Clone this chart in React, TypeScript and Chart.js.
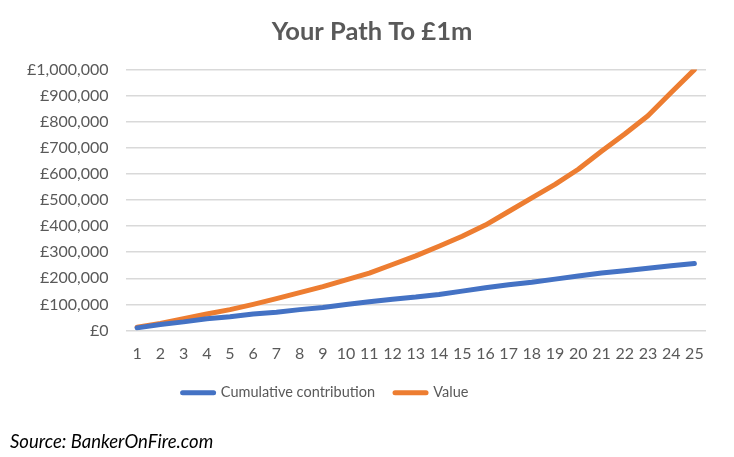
import React, { useEffect, useRef } from "react";
import { Chart, registerables } from "chart.js";

Chart.register(...registerables);

const years: string[] = ["1","2","3","4","5","6","7","8","9","10","11","12","13","14","15","16","17","18","19","20","21","22","23","24","25"];
const cumulativeContribution: number[] = [10000,23000,33000,45000,53000,63000,70000,80000,88000,100000,110000,120000,128000,138000,151000,164000,175000,185000,197000,209000,220000,229000,239000,248000,257000];
const portfolioValue: number[] = [13000,27000,45000,63000,80000,100000,122000,145000,168000,194000,220000,253000,286000,323000,361000,404000,456000,508000,560000,618000,687000,753000,823000,912000,1000000];

const TEXT = "#595959";
const FONT = "Lato, 'Open Sans', sans-serif";

// Shift title / legend horizontally to match the reference placement
const boxShift = {
  id: "boxShift",
  afterLayout(chart: any) {
    const t = chart.titleBlock;
    if (t) {
      t.left = 38;
      t.right = 706;
    }
    const l = chart.legend;
    if (l) {
      l.left = 10;
      l.right = 641;
    }
  },
};

export default function App() {
  const ref = useRef<HTMLCanvasElement | null>(null);
  useEffect(() => {
    document.body.style.margin = "0";
    if (!ref.current) return;
    const chart = new Chart(ref.current, {
      type: "line",
      data: {
        labels: years,
        datasets: [
          {
            label: "Cumulative contribution",
            data: cumulativeContribution,
            borderColor: "#4472C4",
            backgroundColor: "#4472C4",
            borderWidth: 5,
            pointRadius: 0,
            tension: 0,
            borderCapStyle: "round",
            borderJoinStyle: "round",
          },
          {
            label: "Value",
            data: portfolioValue,
            borderColor: "#ED7D31",
            backgroundColor: "#ED7D31",
            borderWidth: 5,
            pointRadius: 0,
            tension: 0,
            borderCapStyle: "round",
            borderJoinStyle: "round",
          },
        ],
      },
      plugins: [boxShift],
      options: {
        responsive: false,
        animation: false,
        layout: { padding: { left: 10, right: 28, top: 0, bottom: 47 } },
        plugins: {
          title: {
            display: true,
            text: "Your Path To £1m",
            color: TEXT,
            font: { family: FONT, size: 25.5, weight: "bold" },
            padding: { top: 16, bottom: 23 },
          },
          legend: {
            position: "bottom",
            labels: {
              color: TEXT,
              font: { family: FONT, size: 14.5 },
              boxWidth: 31,
              boxHeight: 0.1,
              padding: 20,
            },
          },
          tooltip: { enabled: false },
        },
        scales: {
          x: {
            offset: true,
            grid: { display: false },
            border: { display: false },
            ticks: { color: TEXT, font: { family: FONT, size: 16 }, padding: 6, maxRotation: 0, autoSkip: false },
            afterFit: (scale: any) => {
              scale.height = 35;
            },
          },
          y: {
            min: 0,
            max: 1000000,
            border: { display: false },
            grid: { color: "#d9d9d9", lineWidth: 1.5, drawTicks: false },
            ticks: {
              stepSize: 100000,
              color: TEXT,
              font: { family: FONT, size: 16 },
              padding: 17,
              callback: (v: any) => "£" + Number(v).toLocaleString("en-GB"),
            },
          },
        },
      },
    });
    return () => chart.destroy();
  }, []);
  return (
    <div style={{ position: "relative", width: 734, height: 457, background: "#fff" }}>
      <canvas ref={ref} width={734} height={457} style={{ display: "block" }} />
      <div
        style={{
          position: "absolute",
          left: 10,
          top: 428,
          fontFamily: FONT,
          fontStyle: "italic",
          fontSize: 18.5,
          color: "#000",
          lineHeight: "26px",
        }}
      >
        Source: BankerOnFire.com
      </div>
    </div>
  );
}
